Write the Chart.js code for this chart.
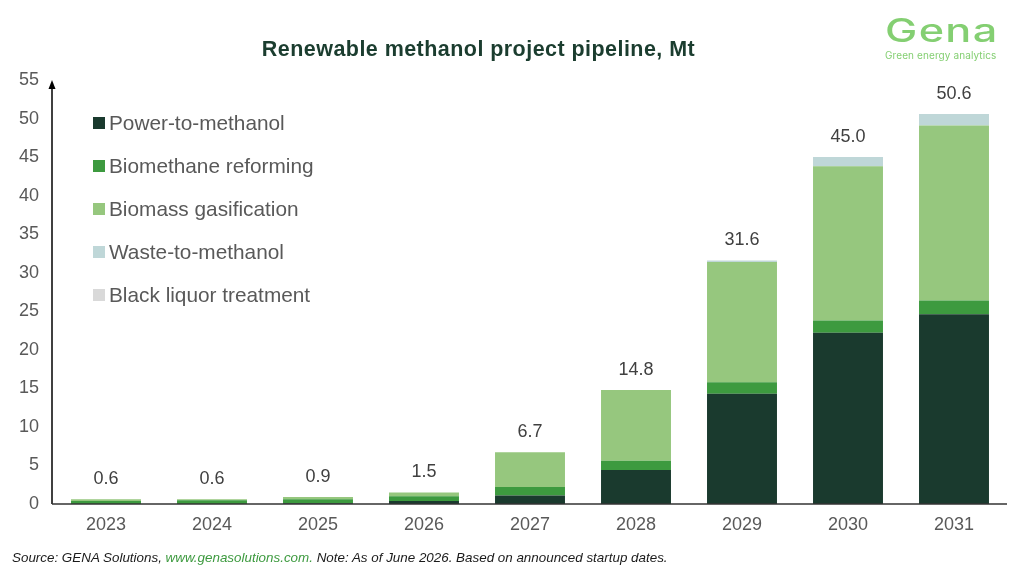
<!DOCTYPE html>
<html>
<head>
<meta charset="utf-8">
<script src="https://cdn.jsdelivr.net/npm/chart.js@4.4.1/dist/chart.umd.min.js"></script>
<style>
  html, body { margin: 0; padding: 0; background: #fff; }
  #wrap { position: relative; width: 1024px; height: 579px; overflow: hidden; font-family: "Liberation Sans", Arial, sans-serif; }
  #chart { position: absolute; left: 0; top: 0; }
  .title { position: absolute; left: 0; width: 957px; top: 37px; text-align: center; font-weight: bold; font-size: 21.5px; color: #1b3d2f; letter-spacing: 0.45px; }
  .logo { position: absolute; left: 885px; top: 11px; font-family: Inter, sans-serif; font-size: 32px; font-weight: 500; color: #84cf72; letter-spacing: 1px; transform: scaleX(1.35); transform-origin: left top; }
  .tag { position: absolute; left: 885px; top: 49px; font-family: Inter, sans-serif; font-size: 10px; color: #84cf72; letter-spacing: 0.1px; }
  .legend { position: absolute; left: 93px; top: 0; }
  .legend div { position: absolute; left: 0; white-space: nowrap; font-size: 20.8px; color: #595959; line-height: 24px; }
  .legend span { display: inline-block; width: 12px; height: 12px; margin-right: 4px; vertical-align: 1px; }
  .note { position: absolute; left: 12px; top: 550px; font-size: 13.4px; font-style: italic; color: #1a1a1a; white-space: nowrap; }
  .note a { color: #3d9a3f; text-decoration: none; }
</style>
</head>
<body>
<div id="wrap">
  <canvas id="chart" width="1024" height="579"></canvas>
  <div class="title">Renewable methanol project pipeline, Mt</div>
  <div class="logo">Gena</div>
  <div class="tag">Green energy analytics</div>
  <div class="legend" id="legend"></div>
  <div class="note">Source: GENA Solutions, <a>www.genasolutions.com.</a> Note: As of June 2026. Based on announced startup dates.</div>
</div>
<script>
const years = ['2023', '2024', '2025', '2026', '2027', '2028', '2029', '2030', '2031'];
const powerToMethanol = [0.0, 0.0, 0.1, 0.4, 1.1, 4.4, 14.3, 22.2, 24.6];
const biomethaneReforming = [0.4, 0.5, 0.5, 0.6, 1.1, 1.2, 1.5, 1.6, 1.8];
const biomassGasification = [0.2, 0.1, 0.3, 0.5, 4.5, 9.2, 15.6, 20.0, 22.7];
const wasteToMethanol = [0.0, 0.0, 0.0, 0.0, 0.0, 0.0, 0.2, 1.2, 1.5];
const blackLiquor = [0.0, 0.0, 0.0, 0.0, 0.0, 0.0, 0.0, 0.0, 0.0];
const totals = [0.6, 0.6, 0.9, 1.5, 6.7, 14.8, 31.6, 45.0, 50.6];
const yTicks = [0, 5, 10, 15, 20, 25, 30, 35, 40, 45, 50, 55];

const series = [
  { label: 'Power-to-methanol', data: powerToMethanol, color: '#1a3a2e' },
  { label: 'Biomethane reforming', data: biomethaneReforming, color: '#3d9a3f' },
  { label: 'Biomass gasification', data: biomassGasification, color: '#96c77e' },
  { label: 'Waste-to-methanol', data: wasteToMethanol, color: '#bfd7d8' },
  { label: 'Black liquor treatment', data: blackLiquor, color: '#d9d9d9' }
];

// legend rows inside the plot, like the original
const legendEl = document.getElementById('legend');
series.forEach((s, i) => {
  const row = document.createElement('div');
  row.style.top = (111 + i * 43) + 'px';
  row.innerHTML = '<span style="background:' + s.color + '"></span>' + s.label;
  legendEl.appendChild(row);
});

// axes with arrow on y, totals above the stacks
const extras = {
  id: 'extras',
  afterDatasetsDraw(chart) {
    const ctx = chart.ctx;
    const x = chart.scales.x;
    const y = chart.scales.y;
    const area = chart.chartArea;
    ctx.save();
    ctx.strokeStyle = '#000';
    ctx.lineWidth = 1.5;
    ctx.beginPath();
    ctx.moveTo(area.left - 1, area.bottom);
    ctx.lineTo(area.left - 1, area.top + 8);
    ctx.stroke();
    ctx.fillStyle = '#000';
    ctx.beginPath();
    ctx.moveTo(area.left - 1, area.top);
    ctx.lineTo(area.left - 4.5, area.top + 9);
    ctx.lineTo(area.left + 2.5, area.top + 9);
    ctx.closePath();
    ctx.fill();
    ctx.strokeStyle = '#333';
    ctx.beginPath();
    ctx.moveTo(area.left - 1, area.bottom);
    ctx.lineTo(area.right, area.bottom);
    ctx.stroke();

    ctx.fillStyle = '#404040';
    ctx.font = '18px "Liberation Sans", Arial, sans-serif';
    ctx.textAlign = 'center';
    ctx.textBaseline = 'middle';
    totals.forEach((t, i) => {
      ctx.fillText(t.toFixed(1), x.getPixelForValue(i), y.getPixelForValue(t) - 20);
    });
    ctx.restore();
  }
};

new Chart(document.getElementById('chart'), {
  type: 'bar',
  data: {
    labels: years,
    datasets: series.map(s => ({
      label: s.label,
      data: s.data,
      backgroundColor: s.color,
      borderWidth: 0,
      barPercentage: 0.66,
      categoryPercentage: 1
    }))
  },
  options: {
    responsive: false,
    devicePixelRatio: 1,
    animation: false,
    layout: { padding: { top: 80, left: 0, right: 17, bottom: 35 } },
    plugins: {
      legend: { display: false },
      tooltip: { enabled: false }
    },
    scales: {
      x: {
        stacked: true,
        grid: { display: false, drawTicks: false },
        border: { display: false },
        ticks: { color: '#595959', font: { size: 18, family: '"Liberation Sans", Arial, sans-serif' }, padding: 10 },
        afterFit(scale) { scale.height = 40; }
      },
      y: {
        stacked: true,
        min: 0,
        max: 55,
        afterBuildTicks(scale) { scale.ticks = yTicks.map(v => ({ value: v })); },
        grid: { display: false, drawTicks: false },
        border: { display: false },
        ticks: { color: '#595959', font: { size: 18, family: '"Liberation Sans", Arial, sans-serif' }, padding: 14 },
        afterFit(scale) { scale.width = 53; }
      }
    }
  },
  plugins: [extras]
});
</script>
</body>
</html>
